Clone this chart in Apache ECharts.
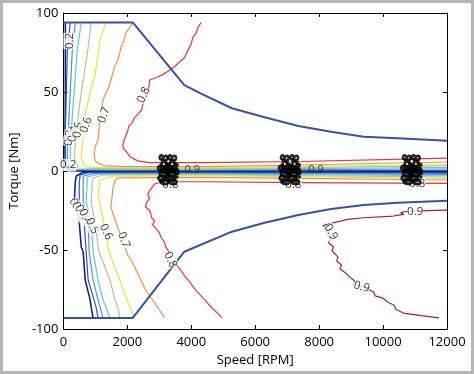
<!DOCTYPE html>
<html><head><meta charset="utf-8">
<script src="https://cdn.jsdelivr.net/npm/echarts@6/dist/echarts.min.js"></script>
<style>html,body{margin:0;padding:0;background:#fff}#c{width:474px;height:374px}</style>
</head><body><div id="c"></div>
<script>
// ---- data (speed RPM, torque Nm) ----
const envTop = [[0,94],[2170,94],[3782,54.4],[4341,48.7],[5271,39.7],[6295,34.0],[7349,28.5],[8372,24.9],[9395,21.7],[10450,20.7],[12000,19.2]];
const envBot = [[0,-93],[2170,-93],[3782,-51.1],[5271,-38.4],[6295,-32.7],[7349,-27.8],[8372,-24.1],[9395,-21.5],[10450,-20.1],[12000,-18.8]];

const levels = ['0.1','0.2','0.3','0.4','0.5','0.6','0.7','0.8','0.9'];

const up1 = [[62,93.9],[62,51],[50,13],[62,3.8],[155,0.3],[620,-0.1],[4340,-0.1],[12000,-0.1]];
const up2 = [[217,93.9],[124,76.6],[93,51.3],[62,26.0],[62,7.0],[124,1.9],[310,0.44],[4340,0.19],[12000,0.32]];
const up3 = [[372,93.9],[279,76.6],[217,51.3],[155,26.0],[124,10.1],[155,3.8],[310,1.1],[1240,0.63],[4340,0.63],[12000,1.27]];
const up4 = [[558,93.9],[434,76.6],[341,51.3],[248,26.0],[217,10.1],[248,3.8],[403,0.95],[1240,0.95],[4340,1.08],[12000,2.2]];
const up5 = [[868,93.9],[744,73.4],[620,57.6],[527,44.9],[403,24.1],[341,8.9],[465,1.9],[1240,1.5],[4340,1.5],[12000,3.2]];
const up6 = [[1333,93.9],[1147,82.9],[992,60.8],[868,52.5],[713,38.6],[620,24.1],[558,8.9],[620,4.4],[775,2.5],[1550,2.1],[4340,2.0],[12000,4.1]];
const up7 = [[2170,93.9],[2050,90],[1953,87.4],[1900,83],[1800,78],[1750,74],[1705,70.3],[1600,66],[1550,62],[1457,55.7],[1400,52],[1300,48],[1240,44.9],[1200,40],[1180,36],[1147,32.3],[1120,28],[1100,24],[1085,19.6],[1000,15.5],[961,11.4],[980,8],[1023,5.7],[1271,3.4],[1860,2.8],[4340,2.8],[7440,3.8],[12000,5.7]];
const up8 = [[4309,93.9],[4200,90.5],[4160,87.4],[4050,84.5],[3990,80.0],[3900,76.5],[3782,71.5],[3600,68.5],[3480,66.0],[3300,63.5],[3100,61.0],[2900,59.0],[2700,57.6],[2680,54],[2640,51],[2620,48],[2570,45],[2480,42],[2450,38.6],[2330,36],[2220,33.6],[2150,30.5],[2050,28.5],[2015,25.5],[1950,22],[1900,19.5],[1860,16.5],[1880,14],[1984,12.0],[2077,9.0],[2325,6.4],[2697,5.3],[4340,5.3],[7440,6.0],[12000,8.2]];

const lo1 = [[12000,-0.82],[4340,-0.76],[620,-0.76],[403,-3.2],[372,-7.0],[341,-19.6],[496,-32.3],[558,-48.1],[620,-51.3],[682,-69.0],[837,-81.6],[868,-86.1],[930,-93.0]];
const lo2 = [[12000,-1.4],[4340,-1.08],[775,-1.1],[527,-2.5],[496,-7.0],[496,-19.6],[651,-32.3],[713,-51.3],[775,-69.0],[961,-81.6],[1023,-86.1],[1085,-93.0]];
const lo3 = [[12000,-2.2],[4340,-1.46],[930,-1.6],[620,-3.2],[620,-7.0],[620,-19.6],[775,-32.3],[806,-51.3],[930,-69.0],[1085,-81.6],[1147,-86.1],[1240,-93.0]];
const lo4 = [[12000,-3.0],[4340,-1.9],[1085,-2.0],[744,-3.8],[744,-7.0],[713,-19.6],[868,-32.3],[930,-51.3],[1085,-69.0],[1240,-81.6],[1333,-86.1],[1457,-93.0]];
const lo5 = [[12000,-3.8],[4340,-2.4],[1240,-2.5],[930,-4.4],[899,-8.9],[868,-19.6],[961,-29.8],[1116,-51.3],[1457,-69.0],[1612,-81.6],[1705,-86.1],[1767,-93.0]];
const lo6 = [[12000,-4.7],[4340,-3.0],[1550,-3.2],[1147,-5.7],[1085,-15.2],[1240,-29.8],[1426,-51.3],[1767,-69.0],[2077,-86.1],[2232,-93.0]];
const lo7 = [[12000,-5.7],[7440,-4.7],[4340,-4.0],[1705,-4.4],[1612,-6.3],[1550,-10.8],[1488,-23.4],[1550,-26.6],[1705,-36.1],[2015,-53.2],[2170,-58.2],[2573,-75.3],[2945,-86.1],[3162,-93.0]];
const lo8 = [[12000,-7.8],[7440,-7.3],[4340,-6.8],[3100,-6.8],[2852,-8.2],[2750,-11],[2680,-13],[2640,-15.2],[2700,-17.5],[2600,-20],[2573,-22.8],[2700,-25],[2728,-26.6],[2760,-29.5],[2850,-31.5],[2790,-34.2],[2900,-36.5],[3007,-39.2],[3050,-42],[3150,-44.5],[3200,-48],[3300,-51],[3348,-55.1],[3500,-58],[3600,-61],[3700,-63.5],[3813,-67.1],[3950,-70],[4050,-73],[4150,-75.5],[4340,-79.8],[4450,-82],[4550,-84.5],[4650,-86.7],[4800,-89.5],[4960,-93.0]];
const lo9 = [[12000,-24.7],[11377,-25.1],[10633,-25.8],[10550,-26.5],[10650,-27.5],[10478,-27.9],[10323,-28.5],[9393,-29.6],[8897,-30.6],[8370,-33.1],[8122,-34.6],[8215,-37.3],[8250,-40],[8350,-42],[8300,-45.6],[8450,-48],[8400,-50.5],[8587,-54.4],[8550,-57],[8700,-59.5],[8650,-62],[8835,-64.6],[8950,-67],[9100,-69.5],[9207,-72.2],[9450,-74],[9703,-76.6],[9750,-79],[10000,-80.5],[10137,-82.9],[10350,-85],[10400,-87.5],[10633,-89.9],[11200,-91.5],[11749,-93.0]];

// contour labels: [speed, torque, text]
const labelPts = [
  [186,82.3,'0.2'],[186,20.9,'0.3'],[310,23.4,'0.4'],[465,26.0,'0.5'],[713,29.1,'0.6'],[1271,35.4,'0.7'],[2511,48.1,'0.8'],
  [150,3.8,'0.2'],
  [372,-22.2,'0.1'],[465,-24.7,'0.2'],[558,-26.6,'0.3'],[682,-29.1,'0.4'],[899,-34.8,'0.5'],[1333,-38.6,'0.6'],[1891,-43.7,'0.7'],[3348,-56.3,'0.8'],
  [11005,-26.0,'0.9'],[8370,-38.6,'0.9'],[9331,-73.4,'0.9'],
  [3348,-8.4,'0.8'],[7192,-8.4,'0.8'],[11067,-8.2,'0.8']
];
const labelRot = [90,80,80,80,70,70,65, 0, -65,-65,-65,-65,-65,-65,-70,-65, 0,-60,-15, 0,0,0];
// stacked labels in the zero-torque band: [speed, torque, text]
const blobPts = [
  [3130,5.0,'0.8'],[3190,1.5,'0.7'],[3150,-1.5,'0.6'],[3210,-3.5,'0.5'],
  [3400,5.0,'0.8'],[3460,1.5,'0.7'],[3420,-1.5,'0.6'],[3480,-3.5,'0.5'],
  [6920,5.0,'0.8'],[6980,1.5,'0.7'],[6940,-1.5,'0.6'],[7000,-3.5,'0.5'],
  [7220,5.0,'0.8'],[7280,1.5,'0.7'],[7240,-1.5,'0.6'],[7300,-3.5,'0.5'],
  [10740,5.0,'0.8'],[10800,1.5,'0.7'],[10760,-1.5,'0.6'],[10820,-3.5,'0.5'],
  [11020,5.0,'0.8'],[11080,1.5,'0.7'],[11040,-1.5,'0.6'],[11100,-3.5,'0.5']
];
const bandNinePts = [[4030,1.0,'0.9'],[7905,1.0,'0.9']];

// ---- styles ----
const colors = ['#1d1d86','#2f52c2','#4a90dc','#56c6e4','#a6cc8c','#e6e632','#f0923e','#e8323c','#9c2434'];
const FONT = 'Open Sans';

const series = [];
const ups = [up1,up2,up3,up4,up5,up6,up7,up8];
const los = [lo1,lo2,lo3,lo4,lo5,lo6,lo7,lo8,lo9];
function lineS(data, color, width, z){
  return {type:'line', data:data, showSymbol:false, symbol:'none', silent:true, z:z||2,
    lineStyle:{color:color, width:width||1}, animation:false};
}
ups.forEach((d,i)=>series.push(lineS(d, colors[i], i===0?1.6:1.2)));
los.forEach((d,i)=>series.push(lineS(d, colors[i], i===0?1.6:1.2)));
series.push(lineS(envTop,'#3552a8',2,5));
series.push(lineS(envBot,'#3552a8',2,5));

series.push({type:'scatter', symbolSize:0, silent:true, z:8, animation:false,
  data: labelPts.map((p,i)=>({value:[p[0],p[1]], label:{formatter:p[2], rotate:labelRot[i]}})),
  label:{show:true, position:'inside', fontSize:11.5, fontFamily:FONT, color:'#000', backgroundColor:'#fff', padding:[0,0]}
});
series.push({type:'scatter', symbolSize:0, silent:true, z:9, animation:false,
  data: blobPts.map(p=>({value:[p[0],p[1]], label:{formatter:p[2]}})),
  label:{show:true, position:'inside', fontSize:12.5, fontWeight:'bold', fontFamily:FONT, color:'#000', rotate:80,
    textBorderColor:'#000', textBorderWidth:1}
});
series.push({type:'scatter', symbolSize:0, silent:true, z:7, animation:false,
  data: bandNinePts.map(p=>({value:[p[0],p[1]], label:{formatter:p[2]}})),
  label:{show:true, position:'inside', fontSize:11, fontFamily:FONT, color:'#222'}
});

const axCommon = {
  axisLine:{show:true, onZero:false, lineStyle:{color:'#000', width:1}},
  axisTick:{show:true, inside:true, length:4, lineStyle:{color:'#000'}},
  splitLine:{show:false}
};
const tickFont = {color:'#000', fontSize:13, fontFamily:FONT, formatter:(v)=>String(v)};

const option = {
  backgroundColor:'#fff',
  animation:false,
  grid:{left:60, right:27, top:13, bottom:45},
  xAxis:[
    Object.assign({type:'value', min:0, max:12000, interval:2000, position:'bottom',
      axisLabel:Object.assign({margin:7, showMinLabel:true, showMaxLabel:true}, tickFont),
      name:'Speed [RPM]', nameLocation:'middle', nameGap:24, nameTextStyle:{color:'#000', fontSize:13, fontFamily:FONT}}, axCommon),
    Object.assign({type:'value', min:0, max:12000, interval:2000, position:'top', axisLabel:{show:false}}, axCommon)
  ],
  yAxis:[
    Object.assign({type:'value', min:-100, max:100, interval:50, position:'left',
      axisLabel:Object.assign({margin:5, showMinLabel:true, showMaxLabel:true}, tickFont),
      name:'Torque [Nm]', nameLocation:'middle', nameGap:40, nameTextStyle:{color:'#000', fontSize:13, fontFamily:FONT}}, axCommon),
    Object.assign({type:'value', min:-100, max:100, interval:50, position:'right', axisLabel:{show:false}}, axCommon)
  ],
  graphic:[{type:'rect', shape:{x:1.5, y:1.5, width:471, height:371}, style:{fill:null, stroke:'#b6b6b6', lineWidth:3}, silent:true, z:100}],
  series: series
};
const chart = echarts.init(document.getElementById('c'), null, {renderer:'canvas'});
chart.setOption(option);
</script></body></html>
